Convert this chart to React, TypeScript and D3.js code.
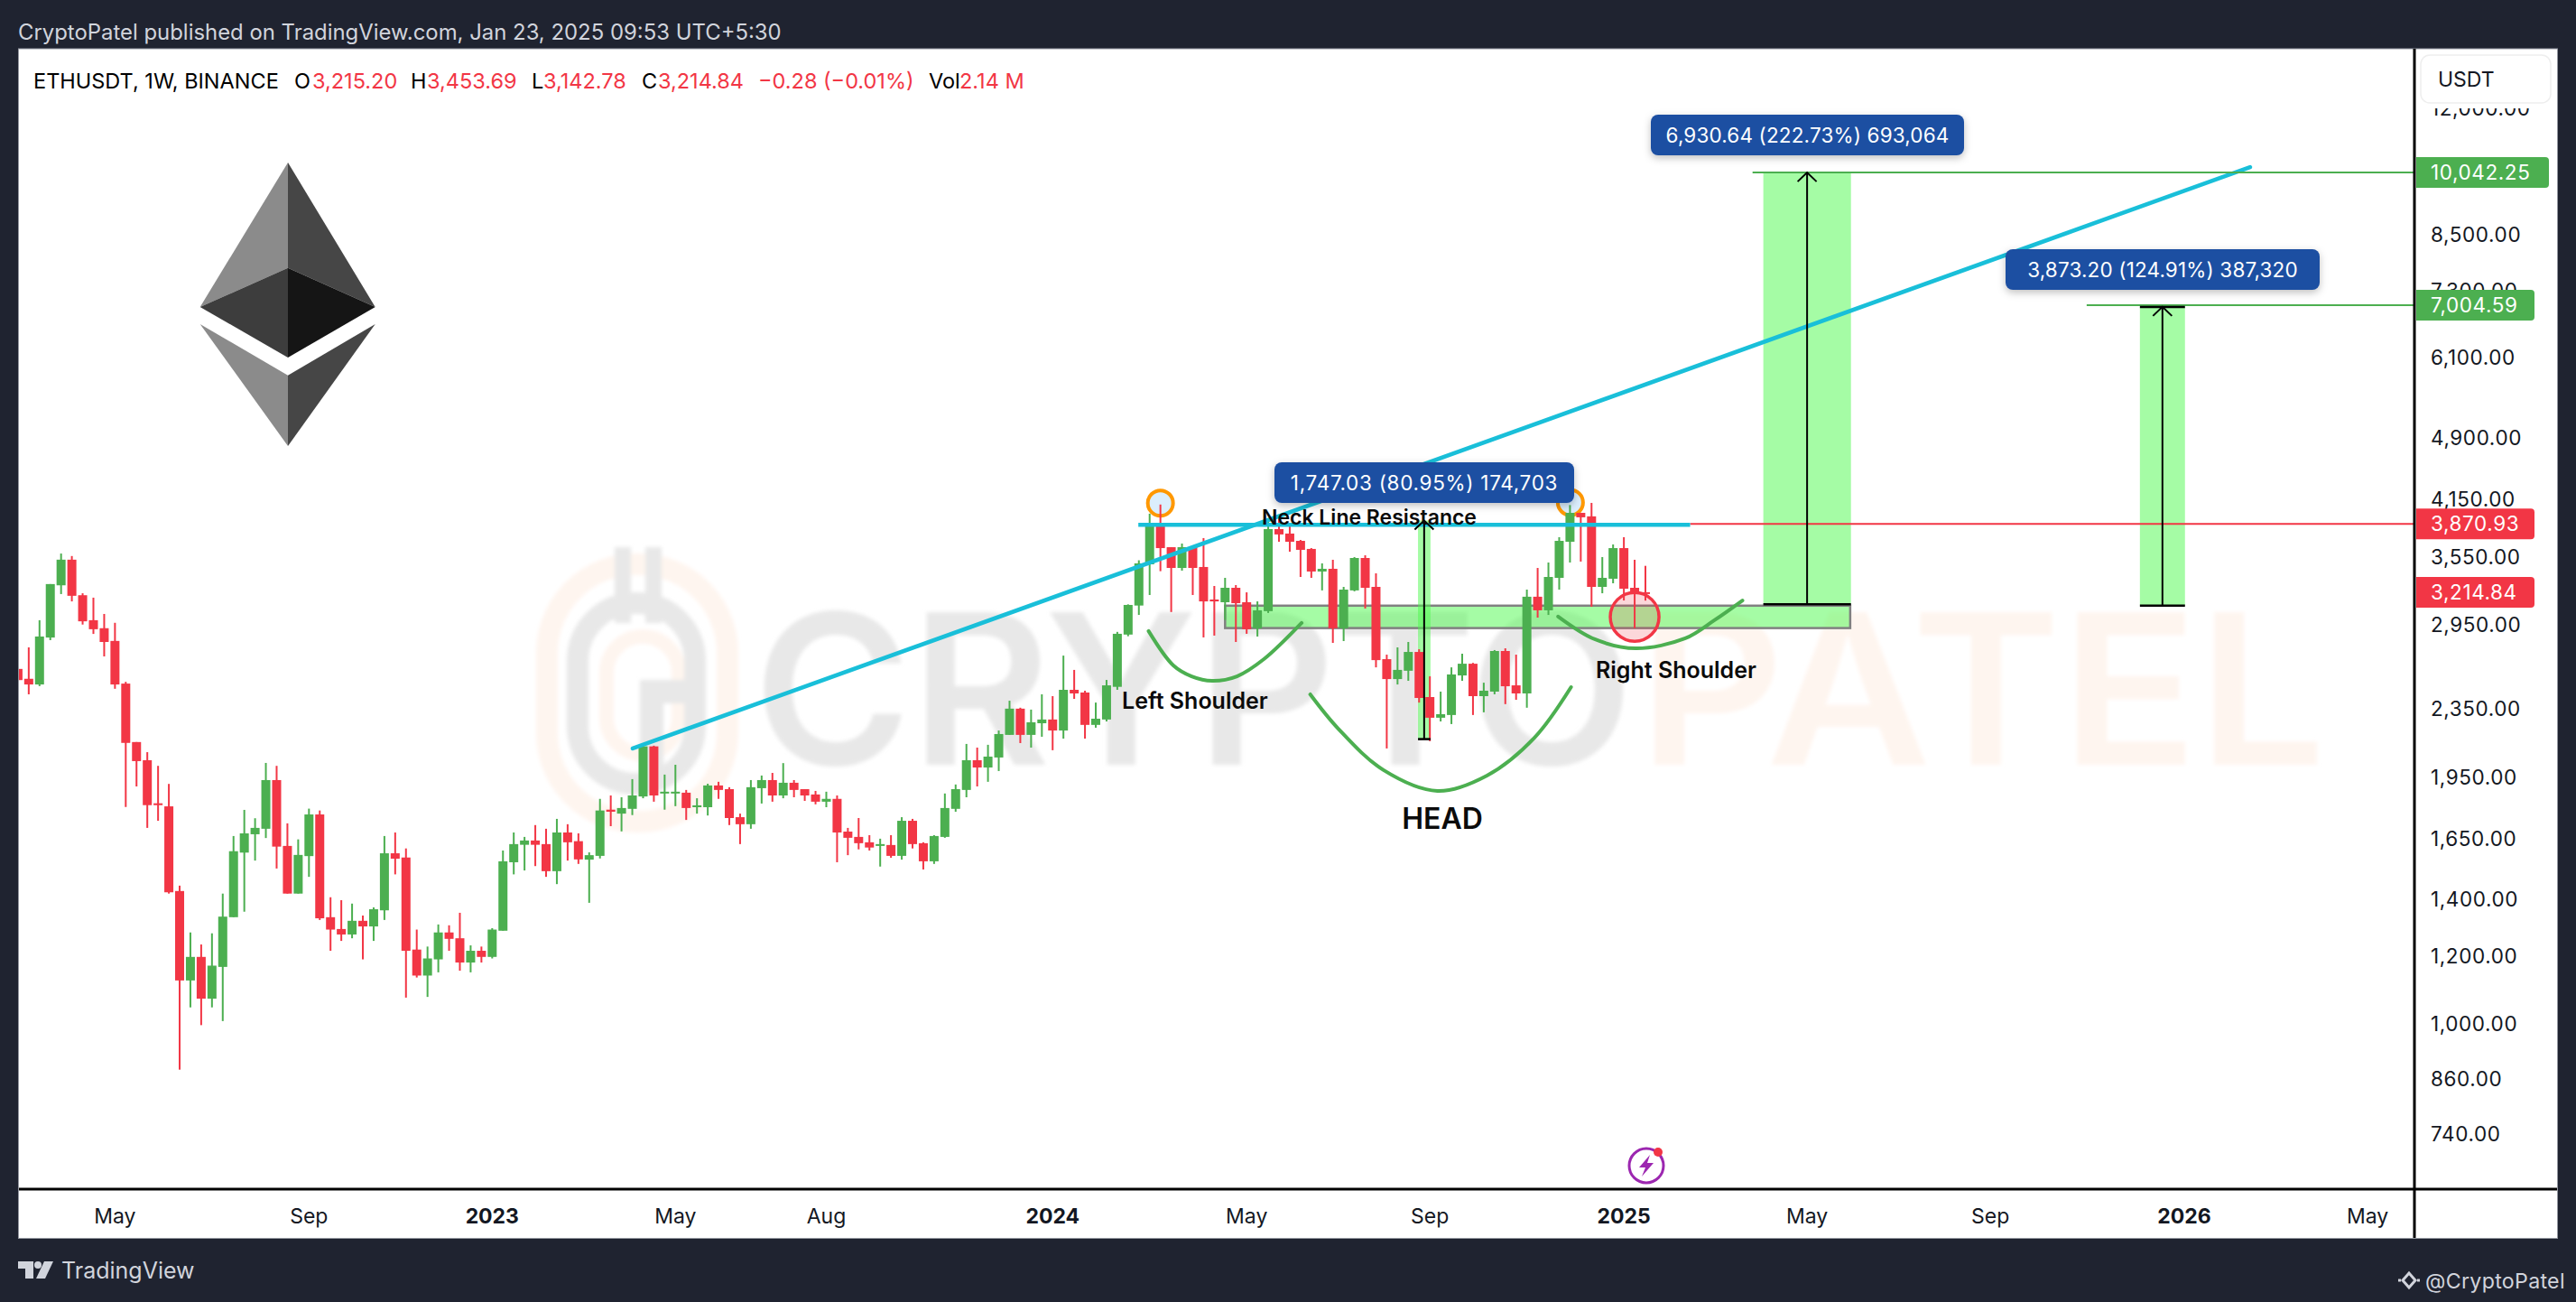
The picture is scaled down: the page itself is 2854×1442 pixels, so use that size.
import React from 'react';
import * as d3 from 'd3';

const opens = [2611,2542,2503,2843,3276,3512,3189,2980,2916,2817,2509,2141,2038,1813,1798,1429,1121,1195,1067,1163,1331,1586,1667,1692,1931,1615,1419,1571,1759,1331,1289,1270,1318,1298,1356,1583,1565,1219,1136,1187,1277,1257,1177,1215,1195,1283,1545,1620,1639,1623,1508,1675,1636,1556,1572,1782,1763,1786,1847,2116,1862,1862,1866,1794,1794,1903,1884,1746,1713,1889,1931,1852,1917,1884,1857,1821,1835,1679,1655,1631,1615,1619,1572,1729,1627,1549,1655,1786,1880,2038,1998,2053,2183,2344,2183,2253,2276,2209,2467,2449,2243,2276,2487,2866,3101,3468,3864,3633,3434,3633,3443,3152,3129,3254,3129,2915,3054,3816,3770,3696,3616,3401,3426,2915,3231,3528,3262,2681,2540,2598,2734,2419,2287,2304,2565,2648,2425,2455,2741,2497,2443,3176,3061,3343,3687,3988,3950,3262,3335,3624,3254,3215.2];
const highs = [2611,2768,2980,3287,3571,3547,3206,3168,3031,2959,2521,2141,2083,2007,1911,1450,1277,1236,1274,1419,1659,1781,1741,2023,2007,1717,1644,1787,1778,1405,1394,1381,1337,1367,1659,1675,1604,1287,1229,1305,1302,1347,1233,1229,1292,1595,1675,1655,1709,1692,1738,1713,1671,1587,1835,1852,1843,1936,2134,2120,1960,2013,1880,1838,1912,1922,1894,1763,1931,1955,1969,2022,1931,1884,1875,1871,1852,1696,1742,1663,1647,1663,1746,1738,1631,1663,1862,1908,2130,2109,2125,2209,2395,2350,2338,2437,2425,2707,2604,2461,2383,2534,2887,3111,3506,3979,4079,3633,3669,3633,3724,3270,3343,3278,3214,3136,3922,3969,3874,3705,3624,3477,3511,3262,3537,3554,3384,2714,2768,2809,2754,2559,2455,2622,2721,2654,2515,2748,2761,2714,3238,3434,3485,3733,4073,3988,4097,3537,3660,3733,3511,3453.69];
const lows = [2533,2437,2492,2823,3199,3136,2945,2871,2701,2474,1795,1898,1696,1729,1419,880,1042,993,1042,1004,1331,1351,1552,1650,1519,1419,1419,1485,1321,1215,1248,1257,1187,1248,1321,1495,1070,1130,1072,1146,1215,1151,1146,1177,1190,1283,1495,1511,1529,1485,1456,1552,1538,1384,1561,1704,1680,1756,1838,1821,1782,1799,1733,1763,1754,1835,1709,1623,1692,1812,1821,1838,1843,1825,1808,1794,1545,1575,1600,1595,1527,1564,1556,1604,1515,1538,1651,1772,1843,1898,1922,1979,2183,2135,2109,2172,2094,2161,2407,2161,2226,2264,2467,2853,3023,3191,3404,3047,3409,3191,2844,2858,2982,2809,2872,2851,3039,3687,3589,3351,3343,3231,2802,2816,3223,3076,2622,2104,2503,2528,2383,2146,2264,2248,2528,2304,2321,2437,2373,2401,2350,3001,3023,3238,3485,3494,3091,3206,3294,3144,2915,3142.78];
const closes = [2533,2503,2851,3287,3512,3184,2971,2908,2809,2503,2136,2033,1804,1804,1424,1121,1195,1067,1167,1333,1592,1671,1696,1931,1612,1419,1576,1759,1327,1287,1270,1318,1298,1360,1583,1560,1215,1136,1190,1277,1255,1177,1215,1195,1287,1549,1623,1639,1620,1508,1675,1631,1557,1575,1778,1772,1790,1852,2116,1852,1871,1871,1790,1803,1903,1880,1742,1713,1894,1931,1852,1917,1880,1852,1821,1835,1675,1651,1627,1608,1623,1572,1729,1623,1549,1659,1790,1884,2038,1998,2058,2188,2344,2183,2259,2276,2209,2467,2443,2243,2281,2497,2872,3106,3477,3864,3624,3434,3633,3434,3136,3136,3254,3121,2908,3061,3816,3761,3687,3607,3401,3426,2915,3238,3528,3254,2674,2540,2604,2734,2413,2287,2309,2572,2648,2425,2461,2741,2491,2443,3176,3061,3351,3696,3988,3940,3262,3343,3624,3246,3214,3214.84];

const priceTicks = [12000,8500,7300,6100,4900,4150,3550,2950,2350,1950,1650,1400,1200,1000,860,740];
const timeTicks: [number,string,boolean][] = [[9,'May',false],[27,'Sep',false],[44,'2023',true],[61,'May',false],[75,'Aug',false],[96,'2024',true],[114,'May',false],[131,'Sep',false],[149,'2025',true],[166,'May',false],[183,'Sep',false],[201,'2026',true],[218,'May',false]];

const trendLine: [number,number][] = [[57.04,2104],[207.1,10191]];
const neckLine: [number,number][] = [[103.95,3860],[155.15,3860]];
const leftShoulder: [number,number][] = [[104.9,2894],[107.2,2636],[108.9,2559],[110.8,2528],[113.1,2559],[115.6,2681],[119.1,2958]];
const headCurve: [number,number][] = [[119.9,2437],[122.5,2220],[126.7,1984],[131.7,1875],[136.3,1955],[140.7,2166],[144.1,2485]];
const rightShoulder: [number,number][] = [[142.9,3010],[146.3,2830],[150.1,2761],[154.7,2837],[157.4,2980],[160,3144]];
const measures = [
  {w0:129.9,w1:131.06,wc:130.47,from:2158.1,to:3905.13,text:'1,747.03 (80.95%) 174,703',lx:1412,lw:332,ly:512,ls:0.7},
  {w0:161.94,w1:170.07,wc:166,from:3111.7,to:10042.25,text:'6,930.64 (222.73%) 693,064',lx:1829,lw:347,ly:127,ls:0.15},
  {w0:196.88,w1:201.06,wc:198.97,from:3100.8,to:6974,text:'3,873.20 (124.91%) 387,320',lx:2222,lw:348,ly:276,ls:0.15},
];
const targets = [{w:160.94,price:10042.25,label:'10,042.25',end:2824},{w:191.94,price:7004.59,label:'7,004.59',end:2808}];
const supportZone = {w0:112,w1:170,hi:3100,lo:2917};
const orangeRings = [[106,4095],[144.04,4101]];
const redRing = [150,3007];
const lastClose = 3214.84;
const resistance = 3870.93;

const GREEN = '#4caf50', RED = '#f23645', CYAN = '#19bfd9', BLUE = '#1e50a2', BG = '#1f2330', FILL='#4cf94c';
const FONT = 'Inter, "Noto Sans", sans-serif';

const x = d3.scaleLinear().domain([0,151]).range([19.9,1823]);
const y = d3.scaleLog().domain([1000,10042.25]).range([1132.5,191.1]);
const lineGen = d3.line<[number,number]>().x(d=>x(d[0])).y(d=>y(d[1]));
const smoothGen = d3.line<[number,number]>().x(d=>x(d[0])).y(d=>y(d[1])).curve(d3.curveCatmullRom.alpha(0.5));
const fmt = d3.format(',.2f');

export default function App() {
  return (
    <svg width={2854} height={1442} style={{position:'fixed',left:0,top:0,display:'block'}} fontFamily={FONT}>
      <defs>
        <clipPath id="pane"><rect x={21} y={55} width={2653} height={1261}/></clipPath>
        <filter id="sh" x="-10%" y="-30%" width="120%" height="170%"><feDropShadow dx="0" dy="3" stdDeviation="4" floodColor="#000" floodOpacity="0.25"/></filter>
        <filter id="soft"><feGaussianBlur stdDeviation="2.2"/></filter>
      </defs>
      <rect width={2854} height={1442} fill={BG}/>
      <text x={20} y={44} fill="#d1d4dc" fontSize={23.9}>CryptoPatel published on TradingView.com, Jan 23, 2025 09:53 UTC+5:30</text>
      <rect x={20.5} y={54} width={2813} height={1317.5} fill="#fff" stroke="#9598a1" strokeWidth={1}/>

      <g clipPath="url(#pane)">
        <g filter="url(#soft)">
          <g fill="none" stroke="#fef5ef" >
            <rect x={606} y={625} width={200} height={285} rx={98} strokeWidth={24}/>
            <rect x={672} y={705} width={80} height={130} rx={40} strokeWidth={16}/>
          </g>
          <g fill="none" stroke="#e8e8e8">
            <rect x={640} y={668} width={130} height={200} rx={64} strokeWidth={24}/>
            <path d="M690 606V690M724 606V690" strokeWidth={18}/>
            <path d="M770 766H722V860" strokeWidth={26}/>
          </g>
          <text x={835} y={847} fontSize={232} fill="#e8e8e8" fontWeight={600} textLength={975} lengthAdjust="spacingAndGlyphs">CRYPTO</text>
          <text x={1815} y={847} fontSize={232} fill="#fef5ef" fontWeight={600} textLength={762} lengthAdjust="spacingAndGlyphs">PATEL</text>
        </g>

        {/* support zone and measure fills */}
        <rect x={x(supportZone.w0)} y={y(supportZone.hi)} width={x(supportZone.w1)-x(supportZone.w0)} height={y(supportZone.lo)-y(supportZone.hi)} fill={FILL} fillOpacity={0.5} stroke="#808080" strokeWidth={2.5}/>
        {measures.map((m,i)=>(
          <rect key={i} x={x(m.w0)} y={y(m.to)} width={x(m.w1)-x(m.w0)} height={y(m.from)-y(m.to)} fill={FILL} fillOpacity={0.5}/>
        ))}
        {orangeRings.map((c,i)=>(
          <circle key={i} cx={x(c[0])} cy={y(c[1])} r={14} fill="#2196f3" fillOpacity={0.16} stroke="#ff9800" strokeWidth={4}/>
        ))}

        {/* candles */}
        {opens.map((o,i)=>{
          const c = closes[i];
          const col = c>=o?GREEN:RED;
          const t = y(Math.max(o,c)), b = y(Math.min(o,c));
          return (
            <g key={i} fill={col}>
              <rect x={x(i)-1} y={y(highs[i])} width={2} height={y(lows[i])-y(highs[i])}/>
              <rect x={x(i)-5} y={t} width={10} height={Math.max(2,b-t)}/>
            </g>
          );
        })}

        {/* lines */}
        <path d={lineGen(trendLine)!} stroke={CYAN} strokeWidth={4.6} fill="none" strokeLinecap="round"/>
        <line x1={x(neckLine[1][0])} x2={2675} y1={y(resistance)} y2={y(resistance)} stroke={RED} strokeWidth={2}/>
        <path d={lineGen(neckLine)!} stroke={CYAN} strokeWidth={4.6} fill="none"/>
        {targets.map((t,i)=>(
          <line key={i} x1={x(t.w)} x2={2675} y1={y(t.price)} y2={y(t.price)} stroke={GREEN} strokeWidth={2}/>
        ))}
        {[leftShoulder,headCurve,rightShoulder].map((c,i)=>(
          <path key={i} d={smoothGen(c)!} stroke={GREEN} strokeWidth={4} fill="none" strokeLinecap="round"/>
        ))}
        <circle cx={x(redRing[0])} cy={y(redRing[1])} r={27} fill={RED} fillOpacity={0.2} stroke={RED} strokeWidth={3.5}/>

        {/* measure arrows */}
        {measures.map((m,i)=>{
          const cx=x(m.wc), top=y(m.to), bot=y(m.from);
          return (
            <g key={i} stroke="#000" fill="none">
              <line x1={cx} x2={cx} y1={top} y2={bot} strokeWidth={2}/>
              <path d={`M${cx-10.5} ${top+10}L${cx} ${top}L${cx+10.5} ${top+10}`} strokeWidth={2}/>
              <line x1={x(m.w0)} x2={x(m.w1)} y1={bot} y2={bot} strokeWidth={2.5}/>
              {i===2 && <line x1={x(m.w0)} x2={x(m.w1)} y1={top} y2={top} strokeWidth={2.5}/>}
            </g>
          );
        })}

        {/* pattern text */}
        <g fill="#0b0b0b" fontWeight={600} fontSize={25}>
          <text x={1398} y={581} fontSize={23} fontWeight={600}>Neck Line Resistance</text>
          <text x={1243} y={785}>Left Shoulder</text>
          <text x={1768} y={750.5}>Right Shoulder</text>
          <text x={1598} y={918} textAnchor="middle" fontSize={32}>HEAD</text>
        </g>

        {/* measure labels */}
        {measures.map((m,i)=>(
          <g key={i}>
            <rect x={m.lx} y={m.ly} width={m.lw} height={45} rx={8} fill={BLUE} filter="url(#sh)"/>
            <text x={m.lx+m.lw/2} y={m.ly+30.5} textAnchor="middle" fill="#fff" fontSize={22.5} letterSpacing={m.ls}>{m.text}</text>
          </g>
        ))}

        {/* ether logo */}
        <g>
          <polygon points="319,180 221.7,340 319,296.7" fill="#8b8b8b"/>
          <polygon points="319,180 415.7,340 319,296.7" fill="#464646"/>
          <polygon points="319,296.7 221.7,340 319,396" fill="#3d3d3d"/>
          <polygon points="319,296.7 415.7,340 319,396" fill="#151515"/>
          <polygon points="221.7,359 319,415.7 319,494" fill="#8b8b8b"/>
          <polygon points="415.7,359 319,415.7 319,494" fill="#464646"/>
        </g>

        {/* bolt badge */}
        <g>
          <circle cx={1824} cy={1291} r={19} fill="#fff" stroke="#9c27b0" strokeWidth={3}/>
          <path d="M1828 1279L1816 1293H1823L1819 1303L1832 1288H1825Z" fill="#9c27b0"/>
          <circle cx={1837} cy={1276} r={5} fill={RED}/>
        </g>

        {/* legend */}
        <text y={98} fontSize={23.5}>
          <tspan x={37} fill="#000">ETHUSDT, 1W, BINANCE</tspan>
          <tspan x={326} fill="#000">O</tspan><tspan x={346} fill={RED}>3,215.20</tspan>
          <tspan x={455} fill="#000">H</tspan><tspan x={473} fill={RED}>3,453.69</tspan>
          <tspan x={589} fill="#000">L</tspan><tspan x={602} fill={RED}>3,142.78</tspan>
          <tspan x={711} fill="#000">C</tspan><tspan x={729} fill={RED}>3,214.84</tspan>
          <tspan x={840} fill={RED}>−0.28 (−0.01%)</tspan>
          <tspan x={1029} fill="#000">Vol</tspan><tspan x={1063} fill={RED}>2.14 M</tspan>
        </text>
      </g>

      {/* axes */}
      <line x1={21} x2={2833} y1={1317} y2={1317} stroke="#000" strokeWidth={3}/>
      <line x1={2675} x2={2675} y1={54} y2={1371} stroke="#000" strokeWidth={3}/>
      <g fontSize={22.5} fill="#131722">
        {priceTicks.map(t=>(
          <text key={t} x={2693} y={y(t)+1} dy="0.36em" letterSpacing={0.6}>{fmt(t)}</text>
        ))}
      </g>
      <rect x={2677} y={55} width={155.5} height={65} fill="#fff"/>
      <rect x={2682} y={61} width={144} height={53} rx={10} fill="#fff" stroke="#eeeeee" strokeWidth={1.5}/>
      <text x={2701} y={96} fontSize={23} fill="#131722">USDT</text>
      {targets.map(t=>(
        <g key={t.label}>
          <path d={`M2677 ${y(t.price)-17}H${t.end-4}q4 0 4 4V${y(t.price)+13}q0 4 -4 4H2677Z`} fill={GREEN}/>
          <text x={2693} y={y(t.price)} dy="0.36em" fontSize={22.5} fill="#fff" letterSpacing={0.6}>{t.label}</text>
        </g>
      ))}
      {[resistance,lastClose].map(p=>(
        <g key={p}>
          <path d={`M2677 ${y(p)-17}H2804q4 0 4 4V${y(p)+13}q0 4 -4 4H2677Z`} fill={RED}/>
          <text x={2693} y={y(p)} dy="0.36em" fontSize={22.5} fill="#fff" letterSpacing={0.6}>{fmt(p)}</text>
        </g>
      ))}
      <g fontSize={23} fill="#131722" textAnchor="middle">
        {timeTicks.map(([w,l,b],i)=>(
          <text key={i} x={x(w)} y={1355} fontWeight={b?700:400}>{l}</text>
        ))}
      </g>

      {/* footer */}
      <g fill="#d1d4dc">
        <path d="M20 1397H37V1416H28V1405H20Z"/>
        <circle cx={42} cy={1401} r={4}/>
        <path d="M49 1397H59L50 1416H40Z"/>
        <text x={68} y={1416} fontSize={25}>TradingView</text>
        <path d="M2662 1418l7 -8l7 8l-7 8Z" fill="none" stroke="#d1d4dc" strokeWidth={3}/>
        <path d="M2657 1418h3M2678 1418h3" stroke="#d1d4dc" strokeWidth={3}/>
        <text x={2687} y={1427} fontSize={23.2} letterSpacing={0.3}>@CryptoPatel</text>
      </g>
    </svg>
  );
}
